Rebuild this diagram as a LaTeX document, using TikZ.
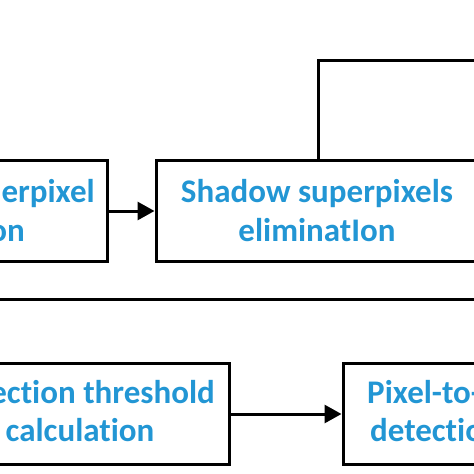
\documentclass[tikz,border=0pt]{standalone}
\usepackage{fontspec}
\setmainfont[Ligatures=NoCommon]{Carlito}
\usetikzlibrary{arrows.meta}
\definecolor{txtblue}{RGB}{34,150,212}
\begin{document}
\begin{tikzpicture}[x=1pt,y=-1pt,
  box/.style={draw=black,line width=3pt,minimum height=101pt,inner sep=0pt},
  lbl/.style={text=txtblue,font=\bfseries\fontsize{33}{39}\selectfont,inner sep=0pt},
  link/.style={line width=3pt},
  arr/.style={link,-{Triangle[length=17pt,width=18pt]}}]
\useasboundingbox (0,0) rectangle (474,474);
\clip (0,0) rectangle (474,474);
% boxes
\node[box,minimum width=307pt] (b1) at (-46.5,211) {};
\node[box,minimum width=324pt] (b2) at (318,211) {};
\node[box,minimum width=299pt] (b3) at (79.5,414) {};
\node[box,minimum width=307pt] (b4) at (496.5,414) {};
% labels
\node[lbl,anchor=base east] (t1a) at (95,202) {erpixel};
\node[lbl,anchor=base east] (t1b) at (25,241) {on};
\node[lbl,anchor=base] (t2a) at (317,202) {Shadow superpixels};
\node[lbl,anchor=base] (t2b) at (317,241) {eliminatIon};
\node[lbl,anchor=base east] (t3a) at (215,403) {ection threshold};
\node[lbl,anchor=base] (t3b) at (80,441) {calculation};
\node[lbl,anchor=base west] (t4a) at (367,403) {Pixel-to-};
\node[lbl,anchor=base west] (t4b) at (370,441) {detectio};
% connectors
\draw[arr] (b1.east) -- (b2.west);
\draw[arr] (b3.east) -- (b4.west);
\coordinate (tr) at (484,60);
\draw[link] (b2.north) |- (tr);
\coordinate (hl) at (-10,299);
\coordinate (hr) at (484,299);
\draw[link] (hl) -- (hr);
\end{tikzpicture}
\end{document}
